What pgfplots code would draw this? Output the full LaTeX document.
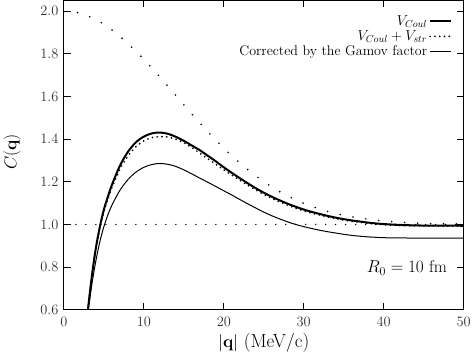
\documentclass[border=0pt]{standalone}
\usepackage{pgfplots}
\pgfplotsset{compat=1.18}
\begin{document}
\begin{tikzpicture}
\begin{axis}[
  scale only axis, width=400pt, height=309.6pt,
  xmin=0, xmax=50, ymin=0.6, ymax=2.05, clip mode=individual,
  xtick={10,20,30,40},
  extra x ticks={0,50}, extra x tick style={major tick length=0pt},
  ytick={0.8,1.0,1.2,1.4,1.6,1.8,2.0},
  extra y ticks={0.6}, extra y tick style={major tick length=0pt},
  yticklabel style={/pgf/number format/fixed, /pgf/number format/fixed zerofill, /pgf/number format/precision=1, xshift=-2pt},
  xticklabel style={yshift=-4pt},
  tick align=inside, major tick length=7pt,
  tick style={line width=0.8pt, black},
  axis line style={line width=0.9pt},
  ticklabel style={font=\fontsize{13.5}{15}\selectfont, text=black!80},
  xlabel={$|\mathbf{q}|$ (MeV/c)},
  label style={font=\fontsize{19}{22}\selectfont},
  xlabel style={at={(axis description cs:0.5,0)}, anchor=center, yshift=-33pt},
  legend plot pos=right, legend cell align=right,
  legend style={at={(rel axis cs:0.975,0.962)}, anchor=north east, draw=none, fill=none,
    font=\fontsize{14}{14.5}\selectfont, row sep=0pt, inner sep=1pt},
  legend image code/.code={\draw[#1] (0cm,0cm) -- (0.75cm,0cm);},
]
% V_Coul (thick)
\addplot[black, line width=2pt, smooth] coordinates {
(3.0,0.60) (3.5,0.76) (4.0,0.89) (4.5,0.99) (5.0,1.07) (5.5,1.13) (6.0,1.185)
(7.0,1.275) (8.0,1.34) (9.0,1.385) (10.0,1.412) (11.0,1.427) (12.0,1.431)
(13.0,1.425) (14.0,1.411) (15.0,1.392) (16.0,1.370) (17.0,1.348) (18.0,1.322)
(19.0,1.296) (20.0,1.268) (21.0,1.242) (22.0,1.217) (23.0,1.193) (24.0,1.170)
(25.0,1.149) (26.0,1.130) (27.0,1.113) (28.0,1.097) (29.0,1.083) (30.0,1.070)
(31.0,1.059) (32.0,1.049) (33.0,1.040) (34.0,1.032) (35.0,1.025) (36.0,1.019)
(37.0,1.014) (38.0,1.009) (39.0,1.005) (40.0,1.002) (42.0,0.998) (45.0,0.995) (50.0,0.994)
};
\addlegendentry{$V_{Coul}$}
% V_Coul + V_str (dotted)
\addplot[black, line width=1.9pt, line cap=round, dash pattern=on 0pt off 4.8pt, smooth] coordinates {
(3.0,0.60) (3.5,0.76) (4.0,0.89) (4.5,0.985) (5.0,1.06) (5.5,1.12) (6.0,1.172)
(7.0,1.258) (8.0,1.320) (9.0,1.364) (10.0,1.392) (11.0,1.407) (12.0,1.412)
(13.0,1.410) (14.0,1.400) (15.0,1.383) (16.0,1.360) (17.0,1.334) (18.0,1.308)
(19.0,1.282) (20.0,1.256) (21.0,1.231) (22.0,1.207) (23.0,1.184) (24.0,1.162)
(25.0,1.141) (26.0,1.122) (27.0,1.105) (28.0,1.090) (29.0,1.076) (30.0,1.064)
(31.0,1.053) (32.0,1.044) (33.0,1.035) (34.0,1.028) (35.0,1.021) (36.0,1.015)
(37.0,1.010) (38.0,1.006) (39.0,1.002) (40.0,0.999) (42.0,0.995) (45.0,0.993) (50.0,0.993)
};
\addlegendentry{$V_{Coul}+V_{str}$}
% Corrected by the Gamov factor (thin)
\addplot[black, line width=1pt, smooth] coordinates {
(3.05,0.60) (3.5,0.72) (4.0,0.83) (4.5,0.92) (5.0,0.99) (5.5,1.045) (6.0,1.09)
(7.0,1.16) (8.0,1.21) (9.0,1.245) (10.0,1.268) (11.0,1.281) (12.0,1.286)
(13.0,1.282) (14.0,1.272) (15.0,1.256) (16.0,1.237) (17.0,1.217) (18.0,1.198)
(19.0,1.178) (20.0,1.158) (21.0,1.138) (22.0,1.117) (23.0,1.097) (24.0,1.077)
(25.0,1.058) (26.0,1.041) (27.0,1.026) (28.0,1.012) (29.0,1.000) (30.0,0.990)
(31.0,0.981) (32.0,0.973) (33.0,0.966) (34.0,0.960) (35.0,0.954) (36.0,0.949)
(37.0,0.945) (38.0,0.942) (39.0,0.940) (40.0,0.938) (42.0,0.937) (45.0,0.936) (50.0,0.936)
};
\addlegendentry{Corrected by the Gamov factor}
% free curve (no legend)
\addplot[black, line width=1.8pt, line cap=round, dash pattern=on 0pt off 13pt, smooth, forget plot] coordinates {
(1.7,1.993) (2,1.990) (3,1.977) (4,1.960) (5,1.938) (6,1.912) (7,1.882) (8,1.848)
(9,1.812) (10,1.774) (11,1.733) (12,1.691) (13,1.648) (14,1.605) (15,1.561)
(16,1.518) (17,1.476) (18,1.435) (19,1.396) (20,1.358) (21,1.322) (22,1.289)
(23,1.257) (24,1.228) (25,1.201) (26,1.176) (27,1.154) (28,1.134) (29,1.115)
(30,1.099) (32,1.072) (34,1.051) (36,1.036) (38,1.025) (40,1.016) (42,1.011)
(44,1.007) (46,1.004) (48,1.003) (50,1.002)
};
% reference line at 1
\addplot[black, line width=1.5pt, line cap=round, dash pattern=on 0pt off 10pt, forget plot] coordinates {(1.5,1) (50,1)};
\node[font=\fontsize{17}{20}\selectfont] at (axis cs:42.9,0.797) {$R_0 = 10$ fm};
\node[rotate=90, font=\fontsize{19}{22}\selectfont] at (rel axis cs:-0.13,0.51) {$C(\mathbf{q})$};
\end{axis}
\end{tikzpicture}
\end{document}
